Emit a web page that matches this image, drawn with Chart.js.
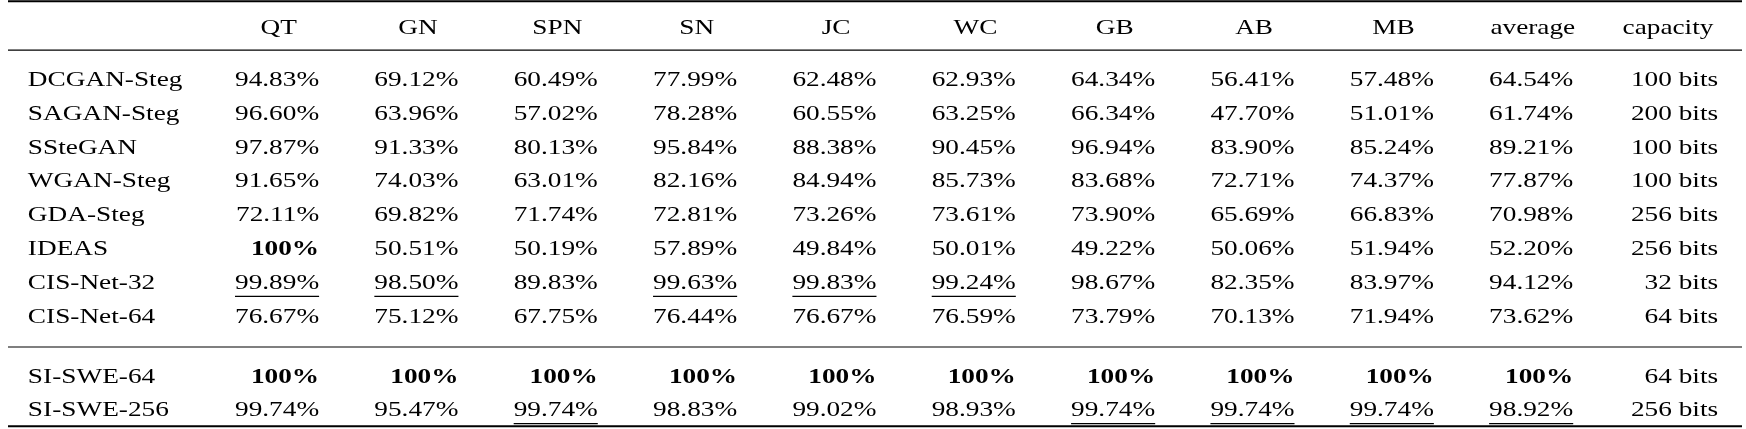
<!DOCTYPE html>
<html>
<head>
<meta charset="utf-8">
<script src="https://cdn.jsdelivr.net/npm/chart.js@4"></script>
<style>
  html, body { margin: 0; padding: 0; background: #fff; }
  #wrap { width: 1746px; height: 429px; }
</style>
</head>
<body>
<div id="wrap"><canvas id="tbl"></canvas></div>
<script>
// Results table rendered on a Chart.js canvas: cells placed through linear x/y scales.

const columns = ['QT', 'GN', 'SPN', 'SN', 'JC', 'WC', 'GB', 'AB', 'MB', 'average'];
const methods = ['DCGAN-Steg', 'SAGAN-Steg', 'SSteGAN', 'WGAN-Steg', 'GDA-Steg', 'IDEAS',
  'CIS-Net-32', 'CIS-Net-64', 'SI-SWE-64', 'SI-SWE-256'];

const dcganSteg = ['94.83', '69.12', '60.49', '77.99', '62.48', '62.93', '64.34', '56.41', '57.48', '64.54'];
const saganSteg = ['96.60', '63.96', '57.02', '78.28', '60.55', '63.25', '66.34', '47.70', '51.01', '61.74'];
const ssteGan   = ['97.87', '91.33', '80.13', '95.84', '88.38', '90.45', '96.94', '83.90', '85.24', '89.21'];
const wganSteg  = ['91.65', '74.03', '63.01', '82.16', '84.94', '85.73', '83.68', '72.71', '74.37', '77.87'];
const gdaSteg   = ['72.11', '69.82', '71.74', '72.81', '73.26', '73.61', '73.90', '65.69', '66.83', '70.98'];
const ideas     = ['100', '50.51', '50.19', '57.89', '49.84', '50.01', '49.22', '50.06', '51.94', '52.20'];
const cisNet32  = ['99.89', '98.50', '89.83', '99.63', '99.83', '99.24', '98.67', '82.35', '83.97', '94.12'];
const cisNet64  = ['76.67', '75.12', '67.75', '76.44', '76.67', '76.59', '73.79', '70.13', '71.94', '73.62'];
const siSwe64   = ['100', '100', '100', '100', '100', '100', '100', '100', '100', '100'];
const siSwe256  = ['99.74', '95.47', '99.74', '98.83', '99.02', '98.93', '99.74', '99.74', '99.74', '98.92'];
const rows = [dcganSteg, saganSteg, ssteGan, wganSteg, gdaSteg, ideas, cisNet32, cisNet64, siSwe64, siSwe256];

const capacity = ['100 bits', '200 bits', '100 bits', '100 bits', '256 bits', '256 bits',
  '32 bits', '64 bits', '64 bits', '256 bits'];

// [row, col] of best (bold) and second best (underlined)
const boldCells = [[5, 0], [8, 0], [8, 1], [8, 2], [8, 3], [8, 4], [8, 5], [8, 6], [8, 7], [8, 8], [8, 9]];
const underCells = [[6, 0], [6, 1], [6, 3], [6, 4], [6, 5], [9, 2], [9, 6], [9, 7], [9, 8], [9, 9]];

const FONT = '"Liberation Serif", "DejaVu Serif", serif';
const SIZE = 22;
const STRETCH = 1.24;
const CAP_X = 10.04, NAME_X = -2.09, HEAD_DX = -0.29;
const HEAD_Y = -1.53, SEP_GAP = 0.76;
const RULES = [[-2.32, 2], [-0.88, 1.2], [7.88, 1.2], [10.22, 2]];

const rowY = (r) => r + (r >= 8 ? SEP_GAP : 0);
const has = (list, r, c) => list.some(([a, b]) => a === r && b === c);

const points = [];
rows.forEach((vals, r) => vals.forEach((v, c) => points.push({ x: c, y: rowY(r) })));

function drawText(ctx, text, px, py, align, bold) {
  ctx.save();
  ctx.font = `${bold ? 'bold ' : ''}${SIZE}px ${FONT}`;
  ctx.translate(px, py);
  ctx.scale(STRETCH, 1);
  ctx.textAlign = align;
  ctx.textBaseline = 'middle';
  ctx.fillStyle = '#000';
  ctx.fillText(text, 0, 0);
  const w = ctx.measureText(text).width * STRETCH;
  ctx.restore();
  return w;
}

const tablePlugin = {
  id: 'tableText',
  afterDatasetsDraw(chart) {
    const { ctx, scales: { x, y } } = chart;
    // rules
    ctx.save();
    ctx.strokeStyle = '#000';
    RULES.forEach(([v, lw]) => {
      ctx.lineWidth = lw;
      const py = y.getPixelForValue(v);
      ctx.beginPath();
      ctx.moveTo(x.left + 8, py);
      ctx.lineTo(x.right - 4, py);
      ctx.stroke();
    });
    ctx.restore();

    // header
    const hy = y.getPixelForValue(HEAD_Y);
    columns.forEach((h, c) => drawText(ctx, h, x.getPixelForValue(c + HEAD_DX), hy, 'center', false));
    drawText(ctx, 'capacity', x.getPixelForValue(CAP_X - 0.36), hy, 'center', false);

    // body
    rows.forEach((vals, r) => {
      const py = y.getPixelForValue(rowY(r));
      drawText(ctx, methods[r], x.getPixelForValue(NAME_X), py, 'left', false);
      vals.forEach((v, c) => {
        const px = x.getPixelForValue(c);
        const w = drawText(ctx, v + '%', px, py, 'right', has(boldCells, r, c));
        if (has(underCells, r, c)) {
          ctx.save();
          ctx.lineWidth = 1.2;
          ctx.strokeStyle = '#000';
          ctx.beginPath();
          ctx.moveTo(px - w, py + 13);
          ctx.lineTo(px, py + 13);
          ctx.stroke();
          ctx.restore();
        }
      });
      drawText(ctx, capacity[r], x.getPixelForValue(CAP_X), py, 'right', false);
    });
  },
};

new Chart(document.getElementById('tbl'), {
  type: 'scatter',
  data: { datasets: [{ data: points, pointRadius: 0, pointHoverRadius: 0 }] },
  options: {
    responsive: true,
    maintainAspectRatio: false,
    animation: false,
    layout: { padding: 0 },
    plugins: { legend: { display: false }, tooltip: { enabled: false } },
    scales: {
      x: { type: 'linear', display: false, min: -2.29, max: 10.24 },
      y: { type: 'linear', display: false, reverse: true, min: -2.36, max: 10.3 },
    },
  },
  plugins: [tablePlugin],
});
</script>
</body>
</html>
